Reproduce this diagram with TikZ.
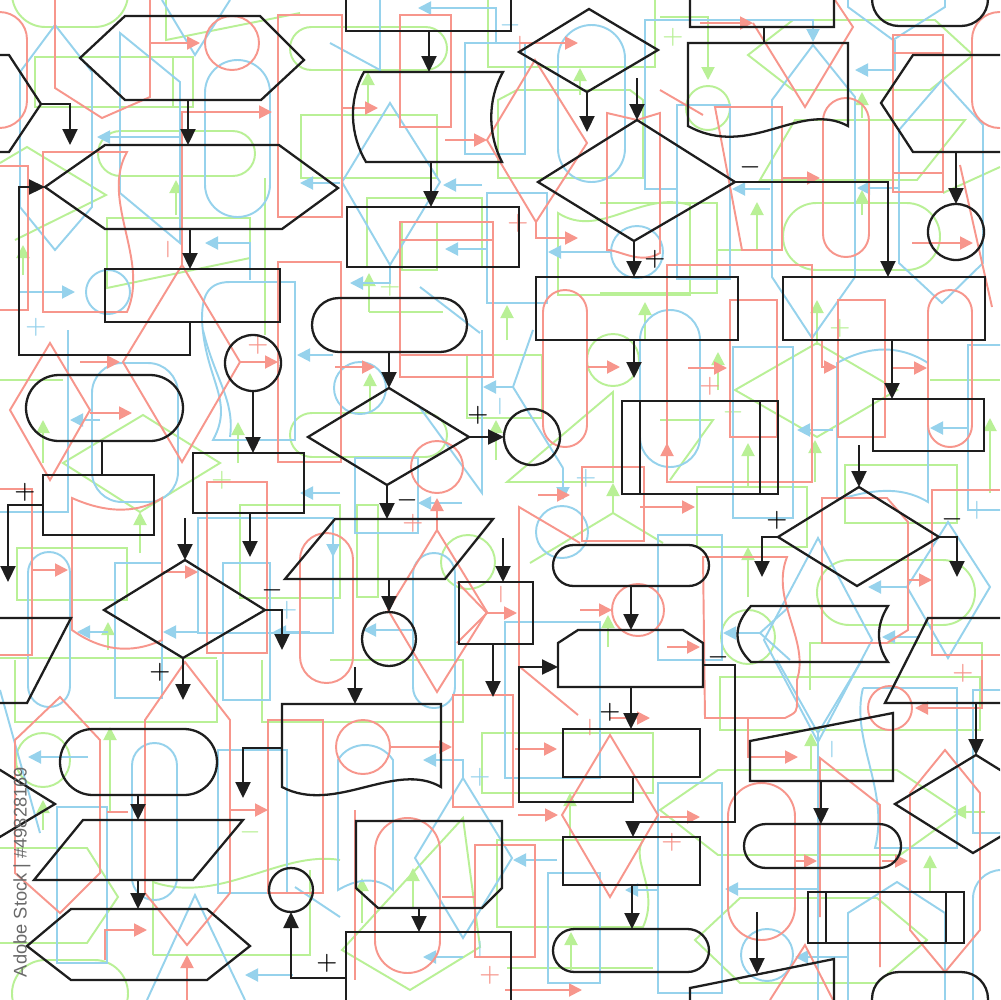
\documentclass[tikz,border=0pt]{standalone}
\usepackage{fontspec}
\newfontfamily\wmfont{Liberation Sans}
\usetikzlibrary{arrows.meta}
\definecolor{ink}{RGB}{30,30,30}
\definecolor{pinkln}{RGB}{247,150,140}
\definecolor{skyln}{RGB}{150,210,236}
\definecolor{limeln}{RGB}{185,240,150}
\definecolor{markgray}{RGB}{105,105,105}
% stadium: style, x1, y1, x2, y2
\newcommand\stad[5]{\pgfmathsetmacro\stadr{min(abs(#4-#2),abs(#5-#3))*0.05-0.005}%
  \draw[#1,rounded corners=\stadr mm] (#2,#3) rectangle (#4,#5);}

\begin{document}
\begin{tikzpicture}[x=0.1mm,y=-0.1mm,
    blk/.style={draw=ink,line width=0.65pt},
    blkarr/.style={blk,-{Triangle[width=1.5mm,length=1.6mm]}},
    pinkline/.style={draw=pinkln,line width=0.55pt},
    pinkarr/.style={pinkline,-{Triangle[width=1.3mm,length=1.3mm]}},
    skyline/.style={draw=skyln,line width=0.55pt},
    skyarr/.style={skyline,-{Triangle[width=1.3mm,length=1.3mm]}},
    limeline/.style={draw=limeln,line width=0.55pt},
    limearr/.style={limeline,-{Triangle[width=1.3mm,length=1.3mm]}},
    sgn/.style={inner sep=0pt,font=\fontsize{7.5}{8}\selectfont}]
  \useasboundingbox (0,0) rectangle (1000,1000);
  \clip (0,0) rectangle (1000,1000);
  \fill[white] (0,0) rectangle (1000,1000);

  % green layer
  \foreach \dy in {0,1000} \stad{limeline,shift={(0,\dy)}}{12}{-40}{128}{27};
  \draw[limeline] (166,0) -- (166,40) -- (300,13);
  \draw[limeline] (35,57) rectangle (193,107); \draw[limeline] (173,57) -- (173,107);
  \stad{limeline}{290}{27}{447}{70};
  \draw[limeline] (301,115) rectangle (437,178);
  \stad{limeline}{98}{131}{255}{176};
  \draw[limeline] (0,163) -- (27,147) -- (106,195) -- (15,240);
  \draw[limeline] (107,218) -- (250,218) -- (250,258) -- (107,288) -- cycle;
  \draw[limeline] (265,178) -- (265,335);
  \draw[limearr] (176,215) -- (176,180);
  \draw[limearr] (23,275) -- (23,245);
  \draw[limeline] (488,-5) -- (488,67) -- (655,67) -- (655,-5);
  \draw[limearr] (580,95) -- (580,68);
  \draw[limearr] (368,107) -- (368,72);
  \draw[limeline] (498,100) -- (517,90) -- (630,90) -- (643,100) -- (643,178) -- (498,178) -- cycle;
  \draw[limeline] (367,198) rectangle (482,267);
  \draw[limeline] (402,222) rectangle (437,270);
  \draw[limearr] (369,312) -- (369,273); \draw[limeline] (369,312) -- (443,312);
  \draw[limeline] (558,295) -- (558,213) .. controls (600,240) and (640,190) .. (690,205) -- (690,295) -- cycle;
  \draw[limearr] (507,340) -- (507,305);
  \draw[limearr] (645,340) -- (645,302);
  \draw[limearr] (660,17) -| (708,80);
  \draw[limeline] (748,55) -- (793,20) -- (935,20) -- (973,55) -- (930,90) -- (793,90) -- cycle;
  \draw[limeline] (708,108) circle (22);
  \draw[limearr] (862,118) -- (862,92);
  \draw[limeline] (795,120) -- (965,120) -- (917,180) -- (760,180) -- cycle;
  \stad{limeline}{783}{203}{940}{270};
  \draw[limearr] (718,250) -| (757,202);
  \draw[limearr] (862,215) -- (862,190);
  \draw[limeline] (600,203) -- (717,203) -- (717,293) -- (600,293);
  \draw[limeline] (943,193) -- (1000,167);
  \draw[limearr] (817,345) -- (817,300);
  \draw[limeline] (63,463) -- (143,415) -- (220,463) -- (140,512) -- cycle;
  \draw[limearr] (140,553) -- (140,512);
  \draw[limeline] (17,548) rectangle (127,600);
  \draw[limearr] (43,463) -- (43,420);
  \draw[limearr] (238,463) -- (238,422);
  \draw[limeline] (240,505) rectangle (340,598);
  \draw[limeline] (0,380) -- (63,380);
  \stad{limeline}{290}{413}{447}{457};
  \draw[limearr] (108,650) -- (108,622);
  \draw[limeline] (0,658) -- (217,658);
  \draw[limeline] (467,355) rectangle (542,418);
  \draw[limeline] (613,360) circle (26);
  \draw[limeline] (507,482) -- (613,392) -- (613,482) -- cycle;
  \draw[limeline] (530,563) -- (613,513) -- (663,543);
  \draw[limearr] (613,513) -- (613,483);
  \draw[limearr] (496,460) -- (496,420);
  \draw[limearr] (370,413) -- (370,373);
  \draw[limeline] (357,505) rectangle (378,597);
  \draw[limeline] (468,562) circle (27);
  \draw[limearr] (608,647) -- (608,615);
  \draw[limeline] (735,390) -- (817,343) -- (897,390) -- (817,437) -- cycle;
  \draw[limearr] (815,482) -- (815,440);
  \draw[limearr] (748,487) -- (748,443);
  \draw[limearr] (718,390) -- (718,352);
  \draw[limeline] (697,487) rectangle (807,547);
  \draw[limeline] (845,465) rectangle (957,523);
  \stad{limeline}{817}{560}{975}{625};
  \draw[limearr] (748,597) -- (748,547);
  \draw[limeline] (748,637) circle (27);
  \draw[limeline] (810,690) -- (810,643) -- (982,643) -- (982,690);
  \draw[limearr] (990,493) -- (990,418);
  \draw[limeline] (930,380) -- (1000,380);
  \draw[limeline] (660,420) -- (713,420) -- (670,480);
  \draw[limeline] (43,760) circle (27);
  \draw[limeline] (15,660) -- (15,722) -- (217,722) -- (217,660);
  \draw[limeline] (262,660) -- (262,722) -- (340,722);
  \draw[limearr] (110,812) -- (110,727);
  \draw[limearr] (43,830) -- (43,800);
  \draw[limeline] (0,848) -- (87,848) -- (118,897) -- (87,943) -- (0,943);
  \draw[limeline] (153,955) -- (153,882) .. controls (220,905) and (280,850) .. (340,860);
  \draw[limeline] (153,955) -- (310,955) -- (310,870);
  \draw[limeline] (482,733) rectangle (653,793);
  \draw[limearr] (570,837) -- (570,793);
  \draw[limearr] (413,908) -- (413,868);
  \draw[limearr] (362,923) -- (362,878);
  \draw[limeline] (497,927) -- (643,927) .. controls (660,890) and (630,860) .. (643,840) -- (497,840) -- cycle;
  \draw[limearr] (571,970) -- (571,932);
  \draw[limeline] (330,660) -- (463,660) -- (463,722) -- (330,722);
  \draw[limeline] (342,950) -- (410,990) -- (480,947) -- (463,818) -- cycle;
  \draw[limeline] (507,968) -- (653,968);
  \draw[limeline] (720,677) rectangle (980,730);
  \draw[limearr] (811,770) -- (811,733);
  \draw[limeline] (660,810) -- (718,770) -- (897,770) -- (960,812) -- (900,855) -- (718,855) -- cycle;
  \draw[limearr] (985,812) -- (953,812);
  \draw[limearr] (930,892) -- (930,855);
  \draw[limeline] (695,940) -- (740,898) -- (877,898) -- (927,940) -- (877,983) -- (740,983) -- cycle;
  \node[sgn,text=limeln] (gplusA) at (390,287) {$+$};
  \node[sgn,text=limeln] (gplusB) at (673,37) {$+$};
  \node[sgn,text=limeln] (gplusC) at (840,328) {$+$};
  \node[sgn,text=limeln] (gplusD) at (222,480) {$+$};
  \node[sgn,text=limeln] (gminusA) at (733,412) {$-$};
  \node[sgn,text=limeln] (gminusB) at (250,832) {$-$};

  % blue layer
  \draw[skyline] (55,25) -- (92,72) -- (92,207) -- (55,250) -- (20,207) -- (20,72) -- cycle;
  \draw[skyline] (120,33) -- (180,82) -- (180,243) -- (120,193) -- cycle;
  \stad{skyline}{205}{60}{270}{217};
  \draw[skyline] (162,0) -- (195,55) -- (230,0);
  \draw[skyarr] (182,137) -- (97,137);
  \draw[skyarr] (250,280) |- (205,243);
  \draw[skyarr] (20,292) -- (75,292);
  \draw[skyline] (108,292) circle (22);
  \draw[skyline] (295,440) -- (295,282) -- (230,282) .. controls (205,282) and (202,300) .. (202,320) .. controls (205,380) and (235,400) .. (213,440) -- cycle;
  \draw[skyarr] (340,183) -- (300,183);
  \draw[skyarr] (496,43) |- (418,8);
  \draw[skyline] (465,43) rectangle (525,154);
  \draw[skyline] (390,103) -- (440,182) -- (390,265) -- (342,182) -- cycle;
  \draw[skyarr] (482,185) -- (443,185);
  \stad{skyline}{558}{25}{625}{182};
  \draw[skyline] (487,193) rectangle (547,303);
  \draw[skyarr] (487,249) -- (445,249);
  \draw[skyarr] (610,252) -- (548,252);
  \draw[skyline] (637,252) circle (26);
  \draw[skyline] (677,20) -- (645,20) -- (645,189) -- (677,189);
  \draw[skyarr] (677,20) -| (813,42);
  \draw[skyarr] (390,265) |- (350,283);
  \draw[skyline] (380,0) -- (380,70) -- (330,43);
  \draw[skyline] (420,287) -- (480,333);
  \foreach \dy in {0,-1000}
    \draw[skyline,shift={(0,\dy)}] (848,1007) -- (848,913) -- (897,882) -- (945,913) -- (945,1007) -- (893,1040) -- cycle;
  \draw[skyline] (813,45) -- (855,97) -- (855,277) -- (812,338) -- (772,277) -- (772,100) -- cycle;
  \draw[skyline] (677,105) rectangle (730,279);
  \draw[skyarr] (895,40) |- (855,70);
  \draw[skyline] (942,80) -- (983,125) -- (983,263) -- (942,303) -- (899,263) -- (899,130) -- cycle;
  \draw[skyarr] (898,188) -- (857,188);
  \draw[skyarr] (770,189) -- (732,189);
  \stad{skyline}{640}{310}{700}{467};
  \draw[skyline] (68,330) -- (68,512) -- (0,512);
  \draw[skyarr] (100,420) -- (70,420);
  \draw[skyline,rounded corners=3mm] (92,502) -- (92,363) -- (178,363) -- (178,502) -- cycle;
  \stad{skyline}{28}{552}{70}{707};
  \draw[skyline] (115,563) rectangle (162,698);
  \draw[skyarr] (108,632) -- (77,632);
  \draw[skyarr] (198,632) -- (163,632);
  \draw[skyline] (198,518) rectangle (333,633);
  \draw[skyline] (223,563) rectangle (270,700);
  \draw[skyline] (203,330) .. controls (215,380) and (235,400) .. (230,437);
  \draw[skyarr] (340,493) -- (300,493);
  \draw[skyarr] (333,355) -- (297,355);
  \draw[skyarr] (333,523) -- (333,557);
  \draw[skyarr] (310,632) -- (273,632);
  \draw[skyline] (360,388) circle (26);
  \draw[skyline] (355,458) rectangle (418,533);
  \draw[skyarr] (513,387) -- (483,387);
  \draw[skyline] (533,330) -- (513,387) -- (563,468);
  \draw[skyarr] (563,468) -- (563,500);
  \draw[skyline] (482,330) -- (482,493) -- (418,405);
  \draw[skyline] (562,532) circle (26);
  \draw[skyarr] (462,503) -- (418,503);
  \draw[skyarr] (413,630) -- (363,630);
  \stad{skyline}{413}{553}{455}{708};
  \draw[skyline] (505,622) rectangle (600,778);
  \draw[skyline] (658,535) rectangle (722,660);
  \draw[skyline] (733,347) rectangle (793,518);
  \draw[skyarr] (833,430) -- (797,430);
  \draw[skyline] (837,363) .. controls (870,345) and (900,345) .. (928,363) -- (928,502) .. controls (900,485) and (870,490) .. (837,500) -- cycle;
  \draw[skyarr] (968,428) -- (930,428);
  \draw[skyline] (968,345) rectangle (1010,510);
  \draw[skyline] (818,538) -- (872,640) -- (818,742) -- (764,640) -- cycle;
  \draw[skyline] (948,522) -- (990,587) -- (948,658) -- (907,587) -- cycle;
  \draw[skyarr] (907,587) -- (868,587);
  \draw[skyarr] (760,633) -- (723,633);
  \draw[skyline] (790,606) -- (760,633) -- (790,660);
  \draw[skyarr] (920,637) -- (882,637);
  \draw[skyline] (57,807) rectangle (107,963);
  \draw[skyarr] (88,757) -- (28,757);
  \stad{skyline}{132}{743}{177}{900};
  \draw[skyline] (147,1000) -- (195,895) -- (245,1000);
  \draw[skyline] (218,750) rectangle (287,893);
  \draw[skyline] (0,690) -- (40,833);
  \draw[skyarr] (293,975) -- (245,975);
  \draw[skyline] (295,887) -- (340,917);
  \draw[skyarr] (463,778) |- (423,760);
  \draw[skyline] (463,778) -- (512,858) -- (463,938) -- (415,858) -- cycle;
  \draw[skyarr] (557,860) -- (513,860);
  \draw[skyline] (338,760) .. controls (350,740) and (380,740) .. (393,760) -- (393,890) .. controls (375,875) and (355,880) .. (338,890) -- cycle;
  \draw[skyline] (548,873) rectangle (600,983);
  \draw[skyarr] (658,890) -- (625,890);
  \draw[skyline] (658,783) rectangle (722,993);
  \draw[skyarr] (463,957) -- (423,957);
  \draw[skyline] (863,688) -- (957,688) -- (957,848) -- (875,848) .. controls (890,790) and (850,740) .. (863,688);
  \draw[skyline] (973,690) rectangle (1010,833);
  \draw[skyline] (777,660) -- (818,733) -- (862,660);
  \draw[skyline] (818,733) -- (818,1000);
  \draw[skyarr] (818,889) -- (725,889);
  \draw[skyline] (767,955) circle (26);
  \draw[skyarr] (848,957) -- (795,957);
  \stad{skyline}{973}{870}{1030}{1060};
  \node[sgn,text=skyln] (bplusA) at (36,327) {$+$};
  \node[sgn,text=skyln] (bplusB) at (287,610) {$+$};
  \node[sgn,text=skyln] (bplusC) at (586,478) {$+$};
  \node[sgn,text=skyln] (bplusD) at (977,510) {$+$};
  \node[sgn,text=skyln] (bplusE) at (480,777) {$+$};
  \node[sgn,text=skyln] (bminusA) at (510,25) {$-$};
  \node[sgn,text=skyln,rotate=90] (bbarA) at (500,407) {$-$};
  \node[sgn,text=skyln,rotate=90] (bbarB) at (480,950) {$-$};
  \node[sgn,text=skyln,rotate=90] (bbarC) at (832,750) {$-$};

  % red layer
  \foreach \dx in {0,-1000} \stad{pinkline,shift={(\dx,0)}}{972}{12}{1027}{128};
  \draw[pinkline] (55,-5) -- (55,88) -- (102,118) -- (150,97) -- (150,-5);
  \draw[pinkarr] (150,43) -- (200,43);
  \draw[pinkline] (232,43) circle (27);
  \draw[pinkarr] (182,267) -- (182,112) -- (272,112);
  \draw[pinkline] (278,15) rectangle (342,217);
  \draw[pinkline] (43,152) -- (127,152) .. controls (100,200) and (150,260) .. (127,312) -- (43,312) -- cycle;
  \draw[pinkline] (182,265) -- (240,362) -- (182,462) -- (123,362) -- cycle;
  \draw[pinkline] (278,262) rectangle (341,462);
  \draw[pinkline] (0,166) -- (28,166) -- (28,310) -- (0,310);
  \draw[pinkline] (400,15) rectangle (451,127);
  \draw[pinkarr] (342,108) -- (378,108);
  \draw[pinkarr] (445,140) -- (487,140);
  \draw[pinkline] (487,140) -- (535,60) -- (587,143) -- (536,222) -- cycle;
  \draw[pinkarr] (520,43) -- (578,43);
  \draw[pinkarr] (536,222) |- (578,238);
  \draw[pinkline] (400,222) rectangle (493,377);
  \draw[pinkline] (400,240) -- (493,240) (400,355) -- (493,355);
  \draw[pinkline] (607,113) -- (637,120) -- (660,113) -- (660,253) .. controls (640,265) and (620,250) .. (607,250) -- cycle;
  \draw[pinkline] (660,90) -- (703,115);
  \draw[pinkline] (893,35) rectangle (943,192);
  \draw[pinkline] (893,53) -- (943,53) (893,173) -- (943,173);
  \draw[pinkarr] (700,23) -- (753,23);
  \draw[pinkline] (753,23) -- (805,107) -- (853,27) -- (835,0);
  \draw[pinkline] (715,107) -- (782,107) -- (782,250) -- (742,250) -- cycle;
  \stad{pinkline}{823}{98}{869}{257};
  \draw[pinkarr] (782,178) -- (820,178);
  \draw[pinkarr] (912,243) -- (973,243);
  \draw[pinkline] (667,265) rectangle (812,482);
  \draw[pinkline] (960,165) -- (992,307);
  \draw[pinkline] (730,300) rectangle (777,437);
  \stad{pinkline}{928}{290}{972}{447};
  \draw[pinkline] (838,300) rectangle (885,437);
  \draw[pinkline] (50,343) -- (90,410) -- (50,480) -- (10,410) -- cycle;
  \draw[pinkarr] (80,362) -- (120,362);
  \draw[pinkarr] (90,413) -- (132,413);
  \draw[pinkarr] (240,362) -- (278,362);
  \draw[pinkline] (207,482) rectangle (267,653);
  \draw[pinkline] (72,498) .. controls (110,515) and (140,512) .. (162,498) -- (162,640) .. controls (130,655) and (100,650) .. (72,630) -- cycle;
  \draw[pinkline] (0,489) -- (32,489) -- (32,655) -- (0,655);
  \draw[pinkarr] (32,570) -- (68,570);
  \draw[pinkarr] (163,572) -- (198,572);
  \stad{pinkline}{300}{533}{353}{683};
  \draw[pinkline] (437,467) circle (26);
  \draw[pinkarr] (335,367) -- (375,367);
  \draw[pinkline] (437,530) -- (487,612) -- (437,692) -- (388,610) -- cycle;
  \draw[pinkarr] (437,530) -- (437,498);
  \draw[pinkline] (457,582) -- (487,613) -- (457,643);
  \draw[pinkarr] (487,613) -- (517,613);
  \stad{pinkline}{543}{290}{587}{447};
  \draw[pinkline] (582,467) rectangle (644,541);
  \draw[pinkarr] (538,495) -- (570,495);
  \draw[pinkline] (580,543) -- (519,507) -- (519,700);
  \draw[pinkarr] (580,610) -- (612,610);
  \draw[pinkline] (638,610) circle (26);
  \draw[pinkarr] (587,367) -- (620,367);
  \draw[pinkarr] (667,482) -- (667,443);
  \draw[pinkarr] (688,368) -- (727,368);
  \draw[pinkarr] (640,507) -- (695,507);
  \draw[pinkarr] (822,340) |- (837,367);
  \draw[pinkarr] (893,368) -- (927,368);
  \draw[pinkline] (822,498) -- (887,498) -- (908,522) -- (908,630) -- (887,643) -- (822,643) -- cycle;
  \draw[pinkarr] (907,580) -- (932,580);
  \draw[pinkline] (1000,490) -- (932,490) -- (932,655) -- (1000,655);
  \draw[pinkline] (703,557) -- (787,557) .. controls (770,600) and (810,640) .. (797,680) -- (797,700) .. controls (797,712) .. (785,718) -- (705,718) -- cycle;
  \draw[pinkarr] (667,647) -- (700,647);
  \draw[pinkline] (60,697) -- (100,740) -- (100,873) -- (60,913) -- (15,873) -- (15,740) -- cycle;
  \draw[pinkline] (185,662) -- (230,720) -- (230,893) -- (187,945) -- (145,893) -- (145,720) -- cycle;
  \draw[pinkline] (268,720) rectangle (323,893);
  \draw[pinkarr] (230,810) -- (268,810);
  \draw[pinkarr] (105,960) |- (147,930);
  \draw[pinkarr] (187,1000) -- (187,955);
  \draw[pinkline] (107,812) -- (128,812);
  \draw[pinkline] (363,747) circle (27);
  \draw[pinkarr] (390,747) -- (452,747);
  \draw[pinkline] (453,695) rectangle (513,807);
  \draw[pinkarr] (515,749) -- (557,749);
  \stad{pinkline}{375}{818}{440}{973};
  \draw[pinkline] (475,845) rectangle (535,957);
  \draw[pinkline] (442,897) -- (475,897);
  \draw[pinkline] (610,735) -- (658,815) -- (610,897) -- (562,815) -- cycle;
  \draw[pinkarr] (518,815) -- (558,815);
  \draw[pinkarr] (610,718) -- (650,718);
  \draw[pinkarr] (505,990) -- (582,990);
  \draw[pinkline] (520,667) -- (578,715);
  \draw[pinkline] (355,810) -- (355,980);
  \draw[pinkline] (890,708) circle (22);
  \draw[pinkarr] (982,660) |- (915,708);
  \draw[pinkarr] (748,718) |- (798,757);
  \stad{pinkline}{728}{783}{795}{940};
  \draw[pinkline] (820,917) -- (820,758) -- (880,805) -- (880,967);
  \draw[pinkarr] (795,861) -- (817,861);
  \draw[pinkarr] (882,861) -- (908,861);
  \draw[pinkline] (945,750) -- (980,793) -- (980,930) -- (945,972) -- (910,930) -- (910,793) -- cycle;
  \draw[pinkline] (770,1000) -- (805,945) -- (833,1000);
  \draw[pinkarr] (660,817) -- (700,817);
  \node[sgn,text=pinkln] (rplusA) at (258,345) {$+$};
  \node[sgn,text=pinkln] (rplusB) at (518,223) {$+$};
  \node[sgn,text=pinkln] (rplusC) at (413,523) {$+$};
  \node[sgn,text=pinkln] (rplusD) at (710,386) {$+$};
  \node[sgn,text=pinkln] (rplusE) at (963,673) {$+$};
  \node[sgn,text=pinkln] (rplusF) at (490,975) {$+$};
  \node[sgn,text=pinkln] (rplusG) at (672,842) {$+$};
  \node[sgn,text=pinkln,rotate=90] (rbarA) at (168,250) {$-$};
  \node[sgn,text=pinkln,rotate=90] (rbarB) at (520,45) {$-$};
  \node[sgn,text=pinkln,rotate=90] (rbarC) at (501,595) {$-$};
  \node[sgn,text=pinkln,rotate=90] (rbarD) at (590,728) {$-$};

  % black flowchart
  \draw[blk] (80,58) -- (125,16) -- (260,16) -- (304,60) -- (261,100) -- (125,100) -- cycle;
  \coordinate (hexA-s) at (188,100);
  \draw[blk] (45,187) coordinate (hexB-w) -- (105,145) -- (279,145) -- (338,188) -- (282,229) -- (105,229) -- cycle;
  \coordinate (hexB-n) at (188,145); \coordinate (hexB-s) at (190,229);
  \draw[blkarr] (hexA-s) -- (hexB-n);
  \draw[blk] (105,269) rectangle (280,322);
  \coordinate (boxC-n) at (190,269); \coordinate (boxC-s) at (190,322);
  \draw[blkarr] (hexB-s) -- (boxC-n);
  \draw[blkarr] (boxC-s) -- (190,355) -| (19,187) -- (hexB-w);

  \foreach \dx in {0,-1000}
    \draw[blk,shift={(\dx,0)}] (881,103) -- (913,55) -- (1009,55) -- (1041,104) -- (1009,152) -- (913,152) -- cycle;
  \coordinate (hexR-s) at (956,152); \coordinate (hexR-e) at (41,104); \coordinate (hexR-out) at (70,145);
  \draw[blkarr] (hexR-e) -| (hexR-out);
  \draw[blk] (956,232) circle (28); \coordinate (ringD-n) at (956,204);
  \draw[blkarr] (hexR-s) -- (ringD-n);

  \foreach \dy in {0,-1000} \draw[blk,shift={(0,\dy)}] (346,932) rectangle (511,1031);
  \coordinate (boxE-s) at (429,31); \coordinate (boxE-n) at (419,932); \coordinate (boxE-w) at (346,978);
  \draw[blk] (364,72) -- (503,72) .. controls (487,100) and (488,135) .. (502,162) -- (366,162) .. controls (350,135) and (348,100) .. (364,72) -- cycle;
  \coordinate (dataF-n) at (429,72); \coordinate (dataF-s) at (431,162);
  \draw[blkarr] (boxE-s) -- (dataF-n);
  \draw[blk] (347,207) rectangle (519,267); \coordinate (boxG-n) at (431,207);
  \draw[blkarr] (dataF-s) -- (boxG-n);

  \stad{blk}{312}{298}{467}{352}; \coordinate (termH-s) at (389,352);
  \draw[blk] (389,388) coordinate (decI-n) -- (469,437) coordinate (decI-e) -- (387,485) coordinate (decI-s) -- (308,437) -- cycle;
  \draw[blkarr] (termH-s) -- (decI-n);
  \draw[blk] (532,437) circle (28); \coordinate (ringJ-w) at (504,437);
  \draw[blkarr] (decI-e) -- (ringJ-w);
  \node[sgn] (plusI) at (478,415) {$+$};
  \draw[blk] (335,519) -- (493,519) -- (445,579) -- (285,579) -- cycle;
  \coordinate (ioK-n) at (387,519); \coordinate (ioK-s) at (389,579);
  \draw[blkarr] (decI-s) -- (ioK-n);
  \node[sgn] (minusI) at (407,500) {$-$};
  \draw[blk] (389,639) circle (27); \coordinate (ringL-n) at (389,612);
  \draw[blkarr] (ioK-s) -- (ringL-n);
  \draw[blk] (459,582) rectangle (533,644);
  \coordinate (boxM-n) at (503,582); \coordinate (boxM-in) at (503,538);
  \coordinate (boxM-s) at (493,644); \coordinate (boxM-out) at (493,697);
  \draw[blkarr] (boxM-in) -- (boxM-n);
  \draw[blkarr] (boxM-s) -- (boxM-out);

  \stad{blk}{553}{545}{709}{586}; \coordinate (termN-s) at (631,586);
  \draw[blk] (558,643) -- (578,630) -- (683,630) -- (703,643) -- (703,687) -- (558,687) -- cycle;
  \coordinate (prepO-n) at (631,630); \coordinate (prepO-s) at (631,687);
  \coordinate (prepO-e) at (703,665); \coordinate (prepO-w) at (558,667);
  \draw[blkarr] (termN-s) -- (prepO-n);
  \draw[blk] (563,729) rectangle (700,777); \coordinate (boxP-n) at (631,729); \coordinate (boxP-s) at (633,777);
  \draw[blkarr] (prepO-s) -- (boxP-n);
  \node[sgn] (plusO) at (610,712) {$+$};
  \draw[blkarr] (boxP-s) -- (633,802) -| (519,667) -- (prepO-w);
  \draw[blk] (563,837) rectangle (700,885); \coordinate (boxQ-n) at (633,837); \coordinate (boxQ-s) at (632,885);
  \draw[blkarr] (prepO-e) -| (735,822) -| (boxQ-n);
  \node[sgn] (minusO) at (718,657) {$-$};
  \stad{blk}{553}{929}{709}{972}; \coordinate (termS-n) at (632,929);
  \draw[blkarr] (boxQ-s) -- (termS-n);

  \draw[blk] (519,52) -- (589,9) -- (658,50) -- (587,92) coordinate (decW-s) -- cycle;
  \coordinate (decW-out) at (587,132);
  \draw[blkarr] (decW-s) -- (decW-out);
  \draw[blk] (637,120) coordinate (decT-n) -- (735,182) coordinate (decT-e) -- (634,241) coordinate (decT-s) -- (538,182) -- cycle;
  \coordinate (decT-in) at (637,78);
  \draw[blkarr] (decT-in) -- (decT-n);
  \draw[blk] (536,277) rectangle (738,340);
  \coordinate (boxU-n) at (634,277); \coordinate (boxU-s) at (634,340); \coordinate (boxU-out) at (634,378);
  \draw[blkarr] (decT-s) -- (boxU-n);
  \node[sgn] (plusT) at (655,259) {$+$};
  \draw[blkarr] (boxU-s) -- (boxU-out);
  \draw[blk] (783,277) rectangle (985,340); \coordinate (boxV-n) at (888,277); \coordinate (boxV-s) at (892,340);
  \draw[blkarr] (decT-e) -| (boxV-n);
  \node[sgn] (minusT) at (750,167) {$-$};
  \draw[blk] (873,399) rectangle (984,451); \coordinate (boxX-n) at (892,399);
  \draw[blkarr] (boxV-s) -- (boxX-n);
  \draw[blk] (622,401) rectangle (778,494);
  \draw[blk] (640,401) -- (640,494) (760,401) -- (760,494);

  \foreach \dy in {0,-1000}
    \draw[blk,shift={(0,\dy)}] (690,988) -- (834,959) -- (834,1027) -- (690,1027) -- cycle;
  \coordinate (inZ-s) at (764,27); \coordinate (inZ-n) at (757,974); \coordinate (inZ-in) at (757,912);
  \draw[blk] (688,43) -- (848,43) -- (848,126) .. controls (800,100) and (750,160) .. (688,126) -- cycle;
  \coordinate (docAA-n) at (764,43);
  \draw[blk] (inZ-s) -- (docAA-n);
  \draw[blkarr] (inZ-in) -- (inZ-n);
  \foreach \dy in {0,-1000} \stad{blk,shift={(0,\dy)}}{872}{972}{988}{1026};

  \stad{blk}{26}{375}{183}{441}; \coordinate (termCC-s) at (102,441);
  \draw[blk] (43,475) rectangle (154,535);
  \coordinate (boxDD-n) at (102,475); \coordinate (boxDD-w) at (43,505); \coordinate (boxDD-out) at (8,582);
  \draw[blk] (termCC-s) -- (boxDD-n);
  \draw[blkarr] (boxDD-w) -| (boxDD-out);
  \node[sgn] (plusDD) at (25,492) {$+$};
  \draw[blk] (253,363) circle (28); \coordinate (ringEE-s) at (253,391);
  \draw[blk] (193,453) rectangle (304,513);
  \coordinate (boxFF-n) at (253,453); \coordinate (boxFF-s) at (250,513); \coordinate (boxFF-out) at (250,557);
  \draw[blkarr] (ringEE-s) -- (boxFF-n);
  \draw[blkarr] (boxFF-s) -- (boxFF-out);
  \draw[blk] (185,560) coordinate (decGG-n) -- (265,610) coordinate (decGG-e) -- (183,658) coordinate (decGG-s) -- (104,610) -- cycle;
  \coordinate (decGG-in) at (185,518); \coordinate (decGG-eout) at (282,650); \coordinate (decGG-sout) at (183,700);
  \draw[blkarr] (decGG-in) -- (decGG-n);
  \draw[blkarr] (decGG-e) -| (decGG-eout);
  \draw[blkarr] (decGG-s) -- (decGG-sout);
  \node[sgn] (minusGG) at (272,590) {$-$};
  \node[sgn] (plusGG) at (160,672) {$+$};

  \foreach \dx in {0,-1000}{
    \draw[blk,shift={(\dx,0)}] (928,618) -- (1071,618) -- (1027,703) -- (885,703) -- cycle;
    \draw[blk,shift={(\dx,0)}] (976,755) -- (1055,804) -- (973,853) -- (895,804) -- cycle;}
  \coordinate (ioHH-s) at (976,703); \coordinate (decII-n) at (976,755);
  \draw[blkarr] (ioHH-s) -- (decII-n);

  \stad{blk}{60}{729}{217}{795}; \coordinate (termJJ-s) at (138,795);
  \draw[blk] (83,820) -- (243,820) -- (193,880) -- (34,880) -- cycle;
  \coordinate (ioKK-n) at (138,820); \coordinate (ioKK-s) at (138,880);
  \draw[blkarr] (termJJ-s) -- (ioKK-n);
  \draw[blk] (27,946) -- (71,909) -- (207,909) -- (250,946) -- (207,980) -- (71,980) -- cycle;
  \coordinate (hexLL-n) at (138,909);
  \draw[blkarr] (ioKK-s) -- (hexLL-n);

  \draw[blk] (282,704) -- (441,704) -- (441,787) .. controls (395,760) and (335,815) .. (282,787) -- cycle;
  \coordinate (docMM-n) at (355,704); \coordinate (docMM-in) at (355,667);
  \coordinate (docMM-w) at (282,748); \coordinate (docMM-out) at (243,798);
  \draw[blkarr] (docMM-in) -- (docMM-n);
  \draw[blkarr] (docMM-w) -| (docMM-out);
  \draw[blk] (291,890) circle (22); \coordinate (ringNN-s) at (291,912);
  \draw[blkarr] (boxE-w) -| (ringNN-s);
  \node[sgn] (plusNN) at (327,963) {$+$};
  \draw[blk] (356,821) -- (502,821) -- (502,888) -- (482,908) -- (378,908) -- (356,888) -- cycle;
  \coordinate (prepOO-s) at (419,908);
  \draw[blkarr] (prepOO-s) -- (boxE-n);

  \draw[blk] (750,741) -- (893,713) -- (893,781) -- (750,781) -- cycle; \coordinate (inPP-s) at (821,781);
  \stad{blk}{744}{824}{901}{868}; \coordinate (termQQ-n) at (821,824);
  \draw[blkarr] (inPP-s) -- (termQQ-n);
  \draw[blk] (808,892) rectangle (964,943);
  \draw[blk] (826,892) -- (826,943) (946,892) -- (946,943);
  \draw[blk] (751,606) -- (888,606) .. controls (876,625) and (876,645) .. (888,662) -- (751,662) .. controls (733,645) and (733,625) .. (751,606) -- cycle;
  \draw[blk] (859,487) coordinate (decTT-n) -- (939,537) coordinate (decTT-e) -- (857,586) -- (778,537) coordinate (decTT-w) -- cycle;
  \coordinate (decTT-in) at (859,445); \coordinate (decTT-wout) at (762,577); \coordinate (decTT-eout) at (957,577);
  \draw[blkarr] (decTT-in) -- (decTT-n);
  \draw[blkarr] (decTT-w) -| (decTT-wout);
  \draw[blkarr] (decTT-e) -| (decTT-eout);
  \node[sgn] (plusTT) at (777,520) {$+$};
  \node[sgn] (minusTT) at (952,519) {$-$};

  \node[rotate=90,text=markgray,inner sep=0pt,font=\wmfont\fontsize{5.2}{6}\selectfont] (stockmark) at (22,872) {Adobe Stock | \#49828169};
\end{tikzpicture}
\end{document}
